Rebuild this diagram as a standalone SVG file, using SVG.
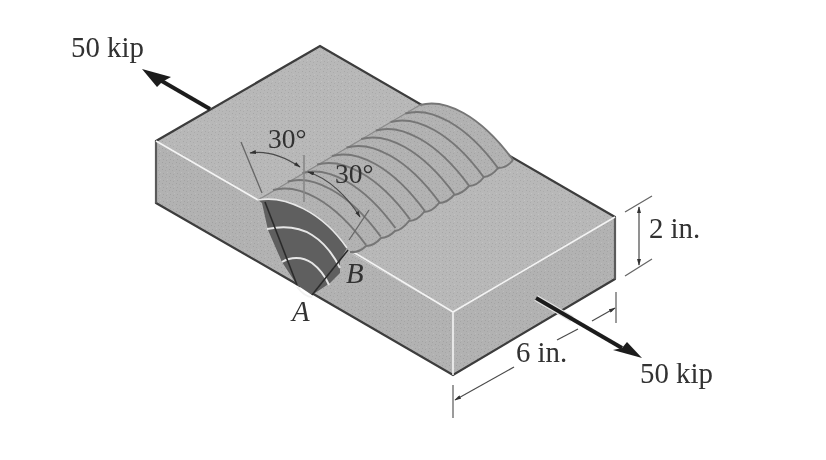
<svg xmlns="http://www.w3.org/2000/svg" width="826" height="460" viewBox="0 0 826 460">
<style>
text{font-family:"Liberation Serif","Times New Roman",serif;font-size:28.8px;fill:#303030}
.deg{font-size:27.5px}
.it{font-style:italic}
.edge{fill:none;stroke:#3c3c3c;stroke-width:2.2;stroke-linecap:round}
.side{fill:none;stroke:#5a5a5a;stroke-width:2.2}
.white{fill:none;stroke:#f4f4f4;stroke-width:1.6}
.weld{fill:none;stroke:#767676;stroke-width:2}
.dim{fill:none;stroke:#4a4a4a;stroke-width:1.2}
.thin{fill:none;stroke:#666;stroke-width:1.3}
.force{fill:none;stroke:#1e1e1e;stroke-width:4}
.head{fill:#1e1e1e}
</style>
<defs>
<pattern id="stip" width="7" height="7" patternUnits="userSpaceOnUse">
<rect width="7" height="7" fill="#b8b8b8"/>
<rect x="1" y="1" width="1" height="1" fill="#a6a6a6"/>
<rect x="4" y="2" width="1" height="1" fill="#acacac"/>
<rect x="2" y="5" width="1" height="1" fill="#a8a8a8"/>
<rect x="6" y="4" width="1" height="1" fill="#c2c2c2"/>
<rect x="5" y="6" width="1" height="1" fill="#aaaaaa"/>
</pattern>
<pattern id="stip2" width="7" height="7" patternUnits="userSpaceOnUse">
<rect width="7" height="7" fill="#b2b2b2"/>
<rect x="1" y="1" width="1" height="1" fill="#a0a0a0"/>
<rect x="4" y="2" width="1" height="1" fill="#a6a6a6"/>
<rect x="2" y="5" width="1" height="1" fill="#a2a2a2"/>
<rect x="6" y="4" width="1" height="1" fill="#bcbcbc"/>
<rect x="5" y="6" width="1" height="1" fill="#a4a4a4"/>
</pattern>
<path id="bead" d="M420,105C445,98 480,115 513,160"/>
<marker id="a" viewBox="0 0 10 6" refX="9" refY="3" markerWidth="7" markerHeight="4" orient="auto-start-reverse" markerUnits="userSpaceOnUse"><path d="M0,0L10,3L0,6z" fill="#333"/></marker>
<filter id="soft" x="0" y="0" width="100%" height="100%"><feGaussianBlur stdDeviation="0.5"/></filter>
</defs>
<rect width="826" height="460" fill="#fff"/>
<g filter="url(#soft)">
<g id="block">
<path d="M320,46L615,217L453,312L156,141z" fill="url(#stip)"/>
<path d="M156,141L453,312L453,375L156,203z" fill="url(#stip2)"/>
<path d="M453,312L615,217L615,279L453,375z" fill="url(#stip2)"/>
<path class="edge" d="M156,141L320,46L615,217"/>
<path class="edge" d="M156,203L300,286M310,292L453,375L615,279"/>
<path class="side" d="M156,141V203M615,217V279"/>
<path class="white" d="M156,141L258,200M345,247L453,312L615,217M453,312V375"/>
</g>
<g id="weld">
<path d="M258,200L420,105C445,98 480,115 513,160Q507,168 498,168Q492,176 484,177Q477,186 469,186Q462,194 454,195Q447,203 439,203Q432,212 424,212Q417,221 409,221Q402,230 395,231Q388,238 381,238Q374,246 366,246Q359,253 350,252z" fill="url(#stip2)"/>
<path d="M258,200L420,105" fill="none" stroke="#8a8a8a" stroke-width="1.2"/>
<path d="M513,160Q507,168 498,168Q492,176 484,177Q477,186 469,186Q462,194 454,195Q447,203 439,203Q432,212 424,212Q417,221 409,221Q402,230 395,231Q388,238 381,238Q374,246 366,246Q359,253 350,252" class="weld"/>
<use href="#bead" class="weld"/>
<use href="#bead" class="weld" transform="translate(-14.7,8.5)"/>
<use href="#bead" class="weld" transform="translate(-29.4,17)"/>
<use href="#bead" class="weld" transform="translate(-44.1,25.5)"/>
<use href="#bead" class="weld" transform="translate(-58.8,34)"/>
<use href="#bead" class="weld" transform="translate(-73.5,42.5)"/>
<use href="#bead" class="weld" transform="translate(-88.2,51)"/>
<use href="#bead" class="weld" transform="translate(-102.9,59.5)"/>
<use href="#bead" class="weld" transform="translate(-117.6,68)"/>
<use href="#bead" class="weld" transform="translate(-132.3,76.5)"/>
<use href="#bead" class="weld" transform="translate(-147,85)"/>
</g>
<g id="section">
<path d="M258,200C285,195 322,212 347,248L340,260L340,273L330,283L312,295L297,285L282,262L278,253L268,230L262,203z" fill="#5e5e5e"/>
<path d="M258,200C285,195 322,212 347,248" fill="none" stroke="#e8e8e8" stroke-width="1.6"/>
<path d="M267,229C282,226 298,226 312,235C325,243 334,256 340,268" fill="none" stroke="#e6e6e6" stroke-width="2"/>
<path d="M282,262C290,257 302,256 312,263C320,269 326,278 329,285" fill="none" stroke="#e6e6e6" stroke-width="2"/>
<path d="M265,202L297,285M348,250L312,295" fill="none" stroke="#2c2c2c" stroke-width="1.6"/>
<path d="M297,287Q305,297 312,297" fill="none" stroke="#f2f2f2" stroke-width="2"/>
</g>
<g id="angles">
<path class="thin" d="M241,142L262,193"/>
<path d="M304,155V202" fill="none" stroke="#888" stroke-width="1.6"/>
<path class="thin" d="M369,210L349,240"/>
<path class="dim" d="M250,153C268,150 285,157 300,167" marker-start="url(#a)" marker-end="url(#a)"/>
<path class="dim" d="M308,172C328,178 347,196 360,217" marker-start="url(#a)" marker-end="url(#a)"/>
</g>
<g id="dimensions">
<path class="thin" d="M625,212L652,196M625,276L652,259M616,292V323M453,385V418"/>
<path class="dim" d="M639,207V265" marker-start="url(#a)" marker-end="url(#a)"/>
<path class="dim" d="M514,367L455,400" marker-end="url(#a)"/>
<path class="dim" d="M592,321L615,308" marker-end="url(#a)"/>
<path class="dim" d="M557,340L578,329"/>
</g>
<g id="forces">
<path class="force" d="M210,109L160,80"/>
<path class="head" d="M142,69L171,77L162,82L157,87z"/>
<path d="M536,298L572,319" fill="none" stroke="#e4e4e4" stroke-width="6.5"/>
<path class="force" d="M536,298L622,348"/>
<path class="head" d="M642,358L627,342L622,348L613,350z"/>
</g>
<g id="labels">
<text x="71" y="57">50 kip</text>
<text class="deg" x="268" y="148">30°</text>
<text class="deg" x="335" y="183">30°</text>
<text x="649" y="238">2 in.</text>
<text x="516" y="362">6 in.</text>
<text x="640" y="383">50 kip</text>
<text class="it" x="346" y="283">B</text>
<text class="it" x="292" y="321">A</text>
</g>
</g>
</svg>
